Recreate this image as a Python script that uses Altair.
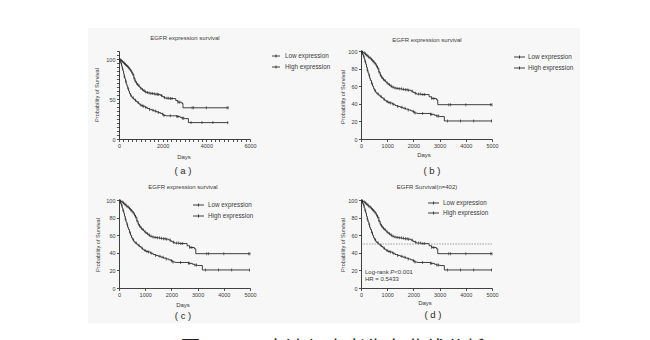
import altair as alt
import pandas as pd
import numpy as np

# ---------------- data ----------------
series = ["Low expression", "High expression"]
titles = ["EGFR expression survival", "EGFR expression survival",
          "EGFR expression survival", "EGFR Survival(n=402)"]
tags = ["( a )", "( b )", "( c )", "( d )"]
caption = "图7  EGFR表达与患者生存曲线分析"

# upper curve (Low expression)
low_days = [0, 40, 80, 130, 180, 230, 280, 330, 380, 430, 480, 530, 580, 630, 680,
            730, 780, 830, 880, 930, 980, 1040, 1100, 1160, 1250, 1350, 1450, 1550,
            1650, 1780, 1900, 1980, 2050, 2120, 2300, 2600, 2700, 2880, 2930, 5000]
low_surv = [100, 99, 98, 97, 95.5, 94.5, 93, 92, 90.5, 89, 87.5, 85.5, 83, 80.5, 76,
            72.5, 70, 68, 66.5, 65, 63.5, 62, 60.5, 59, 58, 57.5, 57, 56.5,
            56, 55.5, 54.5, 53, 52, 51, 50.5, 48, 46, 44.5, 39, 39]
low_censor = [60, 120, 170, 220, 260, 300, 350, 400, 440, 490, 540, 590, 640, 690, 740,
              800, 860, 920, 1000, 1080, 1150, 1220, 1300, 1380, 1460, 1540, 1620, 1700,
              1760, 1820, 1950, 2080, 2200, 2280, 2360, 2430, 2700, 2780, 3350, 3420,
              4000, 4950, 5000]

# lower curve (High expression)
high_days = [0, 30, 60, 90, 120, 150, 180, 210, 240, 270, 300, 330, 360, 400, 440, 480,
             520, 560, 600, 660, 720, 780, 840, 900, 960, 1030, 1100, 1200, 1300, 1400,
             1500, 1600, 1700, 1800, 1900, 1980, 2050, 2150, 2650, 2800, 2880, 3000,
             3180, 5000]
high_surv = [100, 98, 96, 94, 91, 88, 85, 81.5, 78, 75, 72, 69, 66.5, 63, 60, 57,
             55, 53, 51.5, 50, 48.5, 47, 45.5, 44, 42.5, 41.5, 41, 39.5, 38, 37,
             36, 35, 34, 33, 32, 31, 29.5, 29, 28, 27, 26, 25.5,
             20.5, 20.5]
high_censor = [50, 110, 160, 240, 320, 420, 540, 650, 760, 880, 1000, 1070, 1130, 1230,
               1400, 1560, 1680, 1800, 2000, 2060, 2350, 2650, 2700, 2900, 2960, 3300,
               3800, 4300, 4980]

FONT = "Liberation Sans"
INK = "#2a2a2a"
TXT = "#3a3a3a"
W, H = 131, 88

curve_df = pd.concat([
    pd.DataFrame({"day": low_days, "surv": low_surv, "group": series[0]}),
    pd.DataFrame({"day": high_days, "surv": high_surv, "group": series[1]}),
], ignore_index=True)


def step_at(days, surv, d):
    i = int(np.searchsorted(days, d, side="right")) - 1
    return surv[i]


censor_df = pd.DataFrame({
    "day": low_censor + high_censor,
    "surv": [step_at(low_days, low_surv, d) for d in low_censor]
            + [step_at(high_days, high_surv, d) for d in high_censor],
    "group": [series[0]] * len(low_censor) + [series[1]] * len(high_censor),
})

one = pd.DataFrame({"k": [0]})

panel_cfg = [
    dict(xmax=6000, xstep=200, xlab=2000, ymax=110, ystep=5, ylab=50,
         title_xy=(66, -13), tag_xy=(64, 120), days_xy=(65, 106), ytitle_xy=(-22, 44),
         leg_line=(153, 161), leg_text=166, leg_y=(5, 16)),
    dict(xmax=5000, xstep=1000, xlab=1000, ymax=100, ystep=20, ylab=20,
         title_xy=(66, -11), tag_xy=(71, 120), days_xy=(63, 104), ytitle_xy=(-18, 46),
         leg_line=(153, 164), leg_text=167, leg_y=(6, 17)),
    dict(xmax=5000, xstep=1000, xlab=1000, ymax=100, ystep=20, ylab=20,
         title_xy=(64, -13), tag_xy=(64, 116), days_xy=(64, 105), ytitle_xy=(-21, 45),
         leg_line=(74, 85), leg_text=89, leg_y=(5, 16)),
    dict(xmax=5000, xstep=1000, xlab=1000, ymax=100, ystep=20, ylab=20,
         title_xy=(66, -13), tag_xy=(72, 115), days_xy=(64, 103), ytitle_xy=(-18, 45),
         leg_line=(67, 78), leg_text=82, leg_y=(3, 13)),
]


def txt(s, x, y, size=6, align="center", angle=0, style="normal", baseline="middle",
        font=FONT, color=TXT):
    kw = dict(fontSize=size, align=align, baseline=baseline, font=font, color=color,
              fontStyle=style)
    if angle:
        kw["angle"] = angle
    return alt.Chart(pd.DataFrame({"t": [s]})).mark_text(**kw).encode(
        text="t:N", x=alt.value(x), y=alt.value(y))


def make_panel(k):
    c = panel_cfg[k]
    xvals = list(range(0, c["xmax"] + 1, c["xstep"]))
    yvals = list(range(0, c["ymax"] + 1, c["ystep"]))
    xaxis = alt.Axis(values=xvals, title=None, labelOverlap=False, labelFlush=False,
                     zindex=1,
                     labelExpr=f"datum.value % {c['xlab']} === 0 ? format(datum.value, 'd') : ''")
    yaxis = alt.Axis(values=yvals, title=None, labelOverlap=False, labelFlush=False,
                     zindex=1,
                     labelExpr=f"datum.value % {c['ylab']} === 0 ? format(datum.value, 'd') : ''")
    xscale = alt.Scale(domain=[0, c["xmax"]], nice=False, zero=False)
    yscale = alt.Scale(domain=[0, c["ymax"]], nice=False, zero=False)
    xenc = alt.X("day:Q", scale=xscale, axis=xaxis)
    yenc = alt.Y("surv:Q", scale=yscale, axis=yaxis)

    layers = []
    if k == 0:
        layers.append(alt.Chart(one).mark_rect(color="#f7f7f7").encode(
            x=alt.value(-31), x2=alt.value(461), y=alt.value(-23), y2=alt.value(272)))

    layers.append(alt.Chart(curve_df).mark_line(interpolate="step-after", color=INK,
                                                strokeWidth=0.9).encode(
        x=xenc, y=yenc, detail="group:N"))
    layers.append(alt.Chart(censor_df).mark_tick(orient="vertical", size=3, thickness=0.9,
                                                 color=INK).encode(
        x=xenc, y=yenc, detail="group:N"))

    if k == 3:
        layers.append(alt.Chart(one).mark_rule(color="#8a8a8a", strokeDash=[1.5, 1.2],
                                               strokeWidth=0.8).encode(
            y=alt.Y(datum=50, scale=yscale, axis=yaxis)))

    tx, ty = c["title_xy"]
    layers.append(txt(titles[k], tx, ty, size=6))
    dx, dy = c["days_xy"]
    layers.append(txt("Days", dx, dy, size=6))
    gx, gy = c["tag_xy"]
    layers.append(txt(tags[k], gx, gy, size=9.5, color="#2a2a2a"))
    yx, yy = c["ytitle_xy"]
    layers.append(txt("Probability of Survival", yx, yy, size=5.6, angle=270))

    lx0, lx1 = c["leg_line"]
    for name, ly in zip(series, c["leg_y"]):
        layers.append(alt.Chart(one).mark_rule(color=INK, strokeWidth=0.9).encode(
            x=alt.value(lx0), x2=alt.value(lx1), y=alt.value(ly)))
        layers.append(alt.Chart(one).mark_rule(color=INK, strokeWidth=0.9).encode(
            x=alt.value((lx0 + lx1) / 2), y=alt.value(ly - 1.5), y2=alt.value(ly + 1.5)))
        layers.append(txt(name, c["leg_text"], ly, size=6.3, align="left"))

    if k == 3:
        layers.append(txt("Log-rank ", 4, 72, size=6, align="left"))
        layers.append(txt("P", 29.3, 72, size=6, align="left", style="italic"))
        layers.append(txt("<0.001", 33.3, 72, size=6, align="left"))
        layers.append(txt("HR = 0.5433", 4, 79, size=6, align="left"))

    if k == 2:
        layers.append(txt(caption, 214, 140, size=20, baseline="top",
                          font="Noto Sans CJK SC", color="#222"))

    return alt.layer(*layers).properties(width=W, height=H)


chart = alt.concat(
    make_panel(0), make_panel(1), make_panel(2), make_panel(3),
    columns=2, spacing={"row": 61, "column": 111}, bounds="flush",
).properties(
    padding={"left": 88, "top": 28, "right": 5, "bottom": 5},
    background="white",
).configure_view(stroke=None).configure_axis(
    zindex=1, grid=False, domainColor=INK, tickColor=INK, domainWidth=0.9,
    tickWidth=0.8, tickSize=2.5, labelColor=TXT, labelFont=FONT, labelFontSize=5.5,
    labelPadding=1.5, labelOverlap=False, labelFlush=False,
)

chart.save("out.html", embed_options={"renderer": "svg", "actions": False})
